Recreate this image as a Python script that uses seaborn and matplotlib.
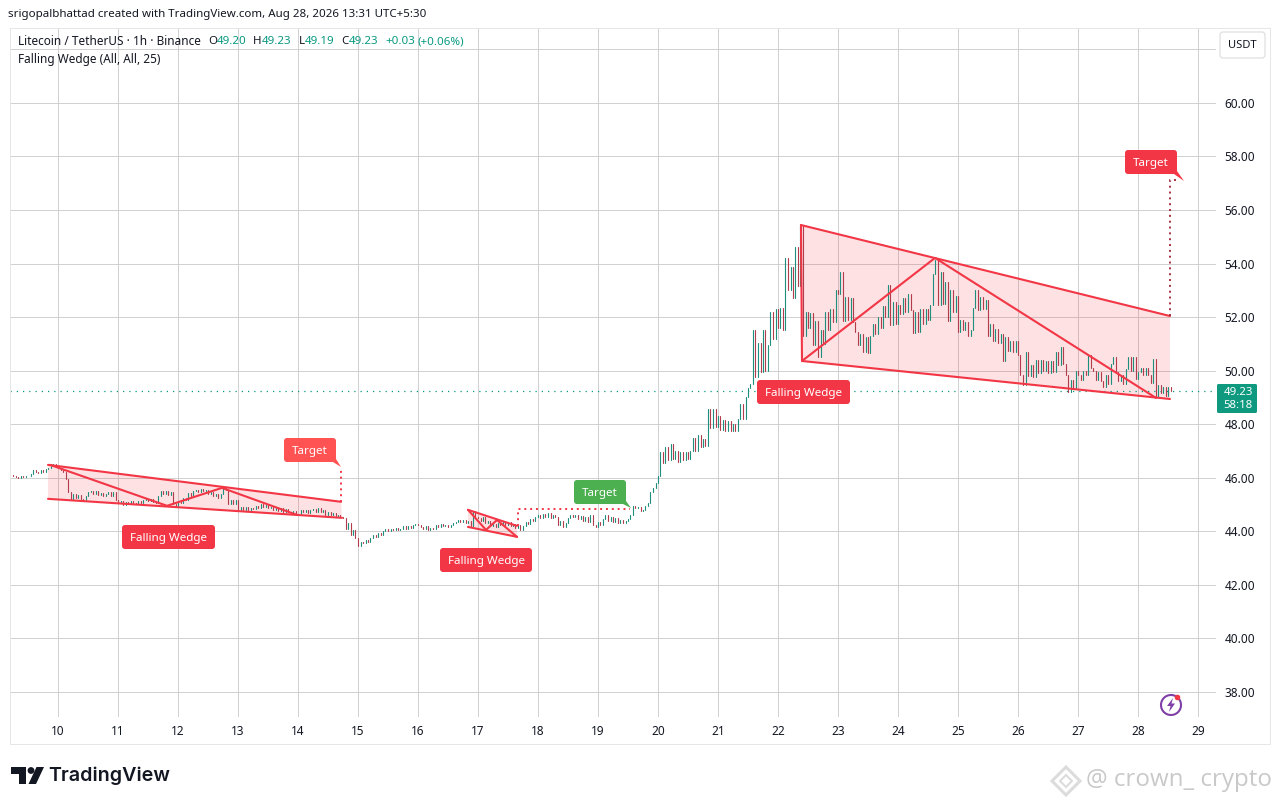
import numpy as np
import pandas as pd
import matplotlib
matplotlib.use("Agg")
import matplotlib.pyplot as plt
from matplotlib.patches import FancyBboxPatch, Polygon, Circle, Arc
import seaborn as sns

# hourly closes
day_09 = [46.10,46.05,46.02,45.98,46.05,46.02,46.08,46.05,46.15,46.28,46.20,46.18,46.28,46.22,46.32,46.35,46.42,46.50,46.40]
day_10 = [46.35,46.28,46.20,45.95,45.45,45.20,45.40,45.25,45.35,45.22,45.15,45.30,45.45,45.52,45.40,45.50,45.35,45.42,45.30,45.40,45.48,45.30,45.45,45.15]
day_11 = [45.05,45.12,44.98,45.10,45.02,45.12,45.05,45.00,45.12,45.05,45.15,45.20,45.12,45.20,45.10,45.05,45.30,45.52,45.40,45.50,45.35,45.45,45.00,44.95]
day_12 = [45.10,45.05,45.25,45.15,45.42,45.30,45.50,45.55,45.48,45.58,45.50,45.55,45.40,45.48,45.32,45.40,45.25,45.38,45.60,45.55,45.00,45.15,45.02,45.18]
day_13 = [44.80,44.92,44.80,44.90,44.78,44.88,44.82,44.95,44.85,45.00,44.90,44.98,44.85,44.92,44.80,44.88,44.75,44.85,44.72,44.82,44.70,44.68,44.75,44.62]
day_14 = [44.65,44.78,44.70,44.80,44.68,44.78,44.82,44.72,44.85,44.70,44.78,44.62,44.72,44.60,44.68,44.58,44.62,44.55,44.50,44.10,44.30,43.85,44.05,43.75]
day_15 = [43.45,43.60,43.55,43.68,43.60,43.75,43.85,43.78,43.95,43.85,44.00,44.08,44.02,44.10,44.05,44.12,44.05,44.10,44.18,44.10,44.20,44.12,44.22,44.28]
day_16 = [44.25,44.15,44.10,44.18,44.05,44.12,44.10,44.22,44.15,44.28,44.18,44.25,44.15,44.22,44.30,44.35,44.42,44.35,44.42,44.30,44.38,44.20,44.75,44.55]
day_17 = [44.50,44.40,44.55,44.30,44.38,44.20,44.28,44.15,44.30,44.25,44.38,44.25,44.35,44.20,44.28,44.12,44.22,44.05,44.20,44.35,44.28,44.45,44.38,44.55]
day_18 = [44.62,44.50,44.65,44.55,44.68,44.50,44.60,44.52,44.25,44.38,44.15,44.30,44.48,44.60,44.52,44.62,44.45,44.58,44.40,44.55,44.35,44.60,44.25,44.15]
day_19 = [44.35,44.25,44.45,44.60,44.40,44.55,44.35,44.50,44.30,44.42,44.30,44.38,44.45,44.60,44.95,44.85,44.90,44.75,44.80,44.95,45.05,45.45,45.60,45.80]
day_20 = [46.05,46.95,46.55,47.15,46.65,47.25,46.70,47.00,46.60,46.95,46.65,46.95,46.70,47.00,47.50,47.00,47.60,47.15,47.45,47.20,48.55,47.85,48.55,47.90]
day_21 = [48.30,47.80,48.15,47.75,48.10,47.75,48.00,47.75,48.20,48.75,48.20,49.00,49.35,49.50,51.50,49.75,51.05,49.95,51.50,50.00,50.95,52.20,51.20,52.30]
day_22 = [51.60,52.35,51.50,54.20,53.00,53.87,52.70,54.60,53.15,55.40,51.30,52.20,51.60,52.15,50.95,51.85,50.50,51.50,51.00,52.20,51.50,52.30,51.80,53.00]
day_23 = [52.85,53.70,51.85,52.75,51.90,52.70,51.80,51.45,50.95,51.35,50.70,51.25,50.65,51.30,51.75,51.35,52.00,51.60,52.40,52.00,53.20,51.70,52.55,51.75]
day_24 = [52.45,52.10,52.70,52.20,52.85,52.25,51.40,52.20,51.45,52.30,51.75,52.30,51.90,52.45,53.60,54.15,52.45,53.70,52.50,53.30,51.85,53.00,52.20,52.80]
day_25 = [51.45,51.90,51.50,51.80,51.30,51.50,52.35,53.00,52.25,52.75,52.30,52.65,51.30,51.75,51.10,51.55,51.05,51.35,50.35,51.25,50.75,51.10,50.70,51.10]
day_26 = [50.60,49.85,49.45,50.70,49.80,50.20,49.75,50.40,49.90,50.40,50.00,50.35,49.90,50.35,49.95,50.70,50.20,50.90,50.25,49.85,49.20,49.65,49.35,50.00]
day_27 = [49.85,49.65,50.00,49.85,50.60,50.10,50.00,49.65,49.95,49.60,49.40,49.85,49.50,50.25,50.50,49.95,49.60,49.85,49.50,50.05,50.50,50.00,50.50,49.70]
day_28 = [49.95,50.10,49.85,50.10,49.85,49.55,50.45,49.00,49.45,49.15,49.40,49.05,49.40,49.23]

# wedge outlines and zigzags, x in days, y in price
wedge1_x = [9.833, 14.717, 14.733, 9.833]
wedge1_y = [46.48, 45.10, 44.50, 45.21]
zig1_x = [9.867, 11.817, 12.733, 13.983]
zig1_y = [46.48, 44.95, 45.62, 44.61]
wedge2_x = [16.833, 17.65, 17.65, 16.833]
wedge2_y = [44.80, 44.20, 43.79, 44.16]
zig2_x = [16.833, 17.133, 17.317, 17.65]
zig2_y = [44.80, 44.05, 44.42, 43.79]
wedge3_x = [22.383, 28.533, 28.533, 22.40]
wedge3_y = [55.44, 52.04, 48.94, 50.36]
zig3_x = [22.383, 22.40, 24.617, 28.30]
zig3_y = [55.44, 50.36, 54.21, 48.98]

target1_x = [14.717, 14.717]
target1_y = [45.10, 46.36]
target2_x = [17.67, 17.67, 19.53]
target2_y = [44.20, 44.83, 44.83]
target3_x = [28.533, 28.533, 28.66]
target3_y = [52.04, 57.12, 57.12]

last_price = 49.23
price_ticks = [38, 40, 42, 44, 46, 48, 50, 52, 54, 56, 58, 60, 62]
day_ticks = list(range(10, 30))

closes = day_09 + day_10 + day_11 + day_12 + day_13 + day_14 + day_15 + day_16 + day_17 + day_18 + \
    day_19 + day_20 + day_21 + day_22 + day_23 + day_24 + day_25 + day_26 + day_27 + day_28
days = 10 + (np.arange(len(closes)) - len(day_09)) / 24

# each candle runs from the previous close to its close
rows = []
for i in range(1, len(closes)):
    side = "up" if closes[i] >= closes[i - 1] else "down"
    rows.append((i, days[i], closes[i - 1], side))
    rows.append((i, days[i], closes[i], side))
candles = pd.DataFrame(rows, columns=["bar", "day", "price", "side"])

RED = "#f23645"
GREEN = "#089981"
INK = "#131722"
GRID = "#cdcdcd"

sns.set_theme(style="whitegrid", rc={"grid.color": GRID, "grid.linewidth": 0.65})
plt.rcParams["font.family"] = ["Noto Sans", "DejaVu Sans"]
plt.rcParams["lines.solid_capstyle"] = "round"

fig = plt.figure(figsize=(12.8, 8.05), dpi=100, facecolor="white")
ax = fig.add_axes([10 / 1280, 1 - 717 / 805, 1206 / 1280, 689 / 805])
ax.set_xlim(9.2, 29.3)
ax.set_ylim(37.06, 62.80)

# wedge fills sit under the candles
for wx, wy in [(wedge1_x, wedge1_y), (wedge2_x, wedge2_y), (wedge3_x, wedge3_y)]:
    ax.fill(wx, wy, color=RED, alpha=0.15, lw=0, zorder=1.5)

ax.axhline(last_price, color=GREEN, lw=0.9, ls=(0, (1, 4)), zorder=1.6)

sns.lineplot(data=candles, x="day", y="price", units="bar", hue="side",
             palette={"up": "#1d8f7c", "down": "#b23c4c"}, estimator=None,
             legend=False, lw=0.8, ax=ax, zorder=2)

for wx, wy in [(wedge1_x, wedge1_y), (wedge2_x, wedge2_y), (wedge3_x, wedge3_y)]:
    sns.lineplot(x=wx[:2], y=wy[:2], sort=False, estimator=None, color=RED, lw=1.5, ax=ax, zorder=3)
    sns.lineplot(x=wx[2:], y=wy[2:], sort=False, estimator=None, color=RED, lw=1.5, ax=ax, zorder=3)
for zx, zy in [(zig1_x, zig1_y), (zig2_x, zig2_y), (zig3_x, zig3_y)]:
    sns.lineplot(x=zx, y=zy, sort=False, estimator=None, color=RED, lw=1.5, ax=ax, zorder=3)

dots = (0, (1, 2))
sns.lineplot(x=target1_x, y=target1_y, sort=False, estimator=None, color=RED, lw=1.4, ls=dots, ax=ax, zorder=3)
sns.lineplot(x=target2_x, y=target2_y, sort=False, estimator=None, color=RED, lw=1.4, ls=dots, ax=ax, zorder=3)
sns.lineplot(x=target3_x, y=target3_y, sort=False, estimator=None, color="#a5303f", lw=1.4, ls=dots, ax=ax, zorder=3)

ax.set_xticks(day_ticks)
ax.set_xticklabels([str(d) for d in day_ticks], fontsize=8.5, color=INK)
ax.set_yticks(price_ticks)
ax.set_yticklabels([f"{p:.2f}" if p < 62 else "" for p in price_ticks], fontsize=8.5, color=INK)
ax.yaxis.tick_right()
ax.tick_params(axis="x", length=0, pad=6)
ax.tick_params(axis="y", length=0, pad=6)
ax.set_xlabel("")
ax.set_ylabel("")
ax.grid(True, zorder=0)
ax.set_axisbelow(True)
for s in ax.spines.values():
    s.set_visible(False)

# overlay in image pixels for the labels and the chrome round the chart
ov = fig.add_axes([0, 0, 1, 1], facecolor="none")
ov.set_xlim(0, 1280)
ov.set_ylim(805, 0)
ov.axis("off")

# pane frame
ov.plot([10, 1270, 1270, 10, 10], [28, 28, 744, 744, 28], color="#e6e6e6", lw=0.7)


def tag(x0, y0, x1, y1, text, color, tail=None):
    if tail:
        ov.add_patch(Polygon(tail, closed=True, color=color, lw=0, zorder=5))
    ov.add_patch(FancyBboxPatch((x0, y0), x1 - x0, y1 - y0, boxstyle="round,pad=0,rounding_size=3",
                                fc=color, ec="none", zorder=5))
    ov.text((x0 + x1) / 2, (y0 + y1) / 2, text, color="white", fontsize=8.4, fontweight="medium",
            ha="center", va="center_baseline", zorder=6)


tag(122, 525, 215, 549, "Falling Wedge", RED)
tag(440, 548, 532, 572, "Falling Wedge", RED)
tag(757, 380, 850, 404, "Falling Wedge", RED)
tag(284, 438, 336, 462, "Target", "#ff5252", [(333, 462), (336, 459), (341, 467)])
tag(574, 480, 626, 504, "Target", "#4caf50", [(623, 504), (626, 501), (631, 508)])
tag(1125, 150, 1177, 174, "Target", RED, [(1174, 174), (1177, 171), (1184, 181)])

# header and legend
ov.text(8, 14, "srigopalbhattad created with TradingView.com, Aug 28, 2026 13:31 UTC+5:30",
        fontsize=8.3, color=INK, va="center")
ov.text(18, 41.5, "Litecoin / TetherUS · 1h · Binance", fontsize=8.5, color=INK, va="center")
for x, s, c in [(208, "O", INK), (217, "49.20", GREEN), (253, "H", INK), (262, "49.23", GREEN),
                (299, "L", INK), (304.5, "49.19", GREEN), (341, "C", INK), (349, "49.23", GREEN),
                (385, "+0.03", GREEN), (418, "(+0.06%)", GREEN)]:
    ov.text(x, 41.5, s, fontsize=8.3, color=c, va="center")
ov.text(18, 59, "Falling Wedge (All, All, 25)", fontsize=8.5, color=INK, va="center")

# unit button and last price tag
ov.add_patch(FancyBboxPatch((1220, 32), 45, 26, boxstyle="round,pad=0,rounding_size=3",
                            fc="white", ec="#dcdcdc", lw=0.8, zorder=5))
ov.text(1242.5, 45, "USDT", fontsize=8, color=INK, ha="center", va="center", zorder=6)
ov.add_patch(FancyBboxPatch((1217, 384), 40, 29, boxstyle="round,pad=0,rounding_size=1.5",
                            fc="#0f9a80", ec="none", zorder=5))
ov.text(1238, 392, f"{last_price:.2f}", fontsize=8.2, color="white", ha="center", va="center", zorder=6)
ov.text(1238, 405, "58:18", fontsize=8.2, color="white", ha="center", va="center", zorder=6)

# purple flash icon
PURPLE = "#7f3fa6"
ov.add_patch(Arc((1171, 705), 20, 20, theta1=0, theta2=360, color=PURPLE, lw=1.5, zorder=5))
ov.add_patch(Polygon([(1173, 698), (1167, 706), (1170.5, 706), (1169, 712), (1175, 703.5), (1171.5, 703.5)],
                     closed=True, color=PURPLE, lw=0, zorder=6))
ov.add_patch(Circle((1177.5, 697.5), 2.8, color=RED, lw=0, zorder=7))

# TradingView mark
ov.add_patch(Polygon([(11, 767), (26, 767), (26, 784), (19, 784), (19, 774), (11, 774)], closed=True, color=INK, lw=0))
ov.add_patch(Circle((31, 770.5), 3.4, color=INK, lw=0))
ov.add_patch(Polygon([(36.5, 767), (44, 767), (36, 784), (28.5, 784)], closed=True, color=INK, lw=0))
ov.text(48, 775.5, "TradingView", fontsize=14.2, fontweight="semibold", color=INK, va="center",
        family=["Inter", "DejaVu Sans"])

# watermark in the corner
WM = "#c9c9c9"
ov.add_patch(Polygon([(1066, 767), (1080, 781), (1066, 795), (1052, 781)], closed=True, fc="none", ec="#dcdcdc", lw=2.2))
ov.add_patch(Polygon([(1066, 775), (1072, 781), (1066, 787), (1060, 781)], closed=True, fc="none", ec="#dcdcdc", lw=1.5))
ov.text(1086, 780, "@ crown_ crypto", fontsize=17.4, color=WM, va="center", family=["Open Sans", "DejaVu Sans"])

fig.savefig("out.png", dpi=100)
